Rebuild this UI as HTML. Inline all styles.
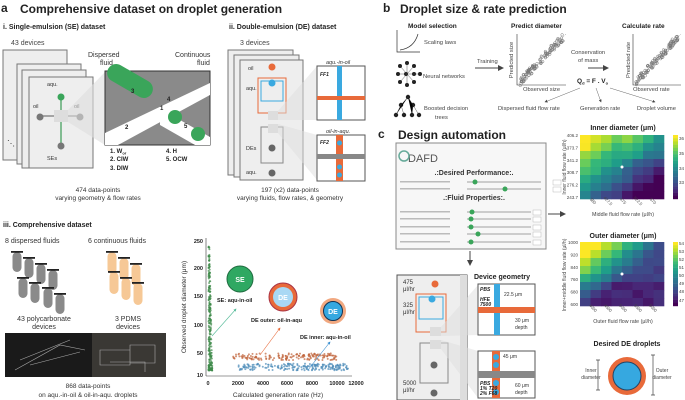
<!DOCTYPE html>
<html><head><meta charset="utf-8"><style>
body{margin:0;background:#fff}
svg{display:block;font-family:"Liberation Sans",sans-serif}
.t{font-size:5.5px;fill:#333}
.h{font-weight:bold;fill:#222}
</style></head><body>
<svg id="s" width="685" height="400" viewBox="0 0 685 400" xmlns="http://www.w3.org/2000/svg">
<defs>
<marker id="ar" markerWidth="6" markerHeight="6" refX="5" refY="3" orient="auto"><path d="M0,0L6,3L0,6z" fill="#444"/></marker>
<marker id="ag" markerWidth="5" markerHeight="5" refX="4" refY="2.5" orient="auto"><path d="M0,0L5,2.5L0,5z" fill="#5b9"/></marker>
<marker id="ao" markerWidth="5" markerHeight="5" refX="4" refY="2.5" orient="auto"><path d="M0,0L5,2.5L0,5z" fill="#e86a3a"/></marker>
<marker id="ab" markerWidth="5" markerHeight="5" refX="4" refY="2.5" orient="auto"><path d="M0,0L5,2.5L0,5z" fill="#3a8fd0"/></marker>
</defs>
<!-- a -->
<text x="1" y="12" font-size="12" class="h">a</text>
<text x="20" y="13" font-size="12" class="h">Comprehensive dataset on droplet generation</text>
<text x="3" y="29" font-size="7" class="h">i. Single-emulsion (SE) dataset</text>
<text x="229" y="29" font-size="7" class="h">ii. Double-emulsion (DE) dataset</text>
<text x="11" y="45" font-size="7" fill="#444">43 devices</text>
<g stroke="#777" stroke-width="1" fill="#eee">
<rect x="3" y="50" width="64" height="110"/><rect x="17" y="64" width="64" height="100"/><rect x="22" y="70" width="64" height="98"/><rect x="29" y="77" width="64" height="91"/></g>
<text x="7" y="146" font-size="8" fill="#333">⋱</text>
<text x="47" y="86" class="t">aqu.</text><text x="33" y="108" class="t">oil</text><text x="74" y="108" class="t">oil</text><text x="47" y="160" class="t">SEs</text>
<line x1="61" y1="97" x2="61" y2="146" stroke="#3a9a55" stroke-width="1.2"/>
<line x1="40" y1="116" x2="80" y2="116" stroke="#777" stroke-width="1.2"/>
<circle cx="61" cy="97" r="3.5" fill="#3aa55a"/><circle cx="40" cy="117" r="3.5" fill="#777"/><circle cx="80" cy="117" r="3.5" fill="#777"/><circle cx="61" cy="146" r="3.5" fill="#777"/>
<rect x="54" y="110" width="14" height="12" fill="#ddd"/>
<polygon points="68,110 105,72 105,145 68,122" fill="#ddd" opacity=".6"/>
<rect x="105" y="71" width="105" height="74" fill="#8a8a8a" stroke="#333"/>
<polygon points="105,133 105,145 118,145 210,95 210,83" fill="#fff"/>
<polygon points="160,115 180,120 210,137 210,145 195,145 160,125" fill="#fff"/>
<rect x="105" y="72" width="50" height="18" rx="9" fill="#3aa55a" transform="rotate(30 130 81)"/>
<circle cx="175" cy="117" r="7" fill="#3aa55a"/><circle cx="198" cy="134" r="7" fill="#3aa55a"/>
<text x="131" y="93" font-size="6" class="h">3</text><text x="125" y="129" font-size="6" class="h">2</text><text x="160" y="110" font-size="6" class="h">1</text><text x="167" y="101" font-size="6" class="h">4</text><text x="184" y="128" font-size="6" class="h">5</text>
<text x="88" y="57" font-size="7" fill="#333">Dispersed</text><text x="100" y="65" font-size="7" fill="#333">fluid</text>
<text x="175" y="57" font-size="7" fill="#333">Continuous</text><text x="197" y="65" font-size="7" fill="#333">fluid</text>
<g font-size="6" class="h"><text x="110" y="153">1. W<tspan font-size="4" dy="1.5">or</tspan></text><text x="110" y="161">2. CIW</text><text x="110" y="170">3. DIW</text><text x="166" y="153">4. H</text><text x="166" y="161">5. OCW</text></g>
<text x="98" y="192" font-size="6.5" text-anchor="middle" fill="#333">474 data-points</text>
<text x="98" y="200" font-size="6.5" text-anchor="middle" fill="#333">varying geometry &amp; flow rates</text>
<!-- ii -->
<text x="240" y="45" font-size="7" fill="#444">3 devices</text>
<g stroke="#777" fill="#eee"><rect x="228" y="50" width="65" height="125"/><rect x="234" y="55" width="65" height="122"/><rect x="240" y="60" width="63" height="120"/></g>
<rect x="258" y="78" width="28" height="35" fill="none" stroke="#e86a3a"/><rect x="261" y="81" width="22" height="20" fill="none" stroke="#3aa9e0"/>
<rect x="261" y="127" width="22" height="36" fill="none" stroke="#888"/>
<circle cx="272" cy="67" r="3.5" fill="#e86a3a"/><circle cx="272" cy="83" r="3.5" fill="#3aa9e0"/><circle cx="272" cy="148" r="3.5" fill="#666"/><circle cx="272" cy="173" r="3.5" fill="#666"/>
<rect x="268" y="111" width="10" height="9" fill="#ddd"/><rect x="268" y="124" width="10" height="9" fill="#ddd"/>
<text x="248" y="70" class="t">oil</text><text x="246" y="90" class="t">aqu.</text><text x="246" y="150" class="t">DEs</text><text x="246" y="174" class="t">aqu.</text>
<polygon points="278,111 317,66 317,120 278,120" fill="#ddd" opacity=".5"/><polygon points="278,124 317,135 317,180 278,133" fill="#ddd" opacity=".5"/>
<rect x="317" y="66" width="48" height="54" fill="#fff" stroke="#555"/>
<rect x="337" y="66" width="5" height="54" fill="#3aa9e0"/><rect x="317" y="96" width="48" height="4" fill="#e86a3a"/>
<rect x="317" y="135" width="48" height="46" fill="#fff" stroke="#555"/>
<rect x="336" y="135" width="7" height="46" fill="#e86a3a"/><rect x="317" y="154" width="48" height="5" fill="#888"/>
<circle cx="339.5" cy="143" r="2.5" fill="#3aa9e0"/><circle cx="339.5" cy="167" r="2.5" fill="#3aa9e0"/><circle cx="339.5" cy="175" r="2.5" fill="#3aa9e0"/>
<text x="320" y="76" font-size="5" class="h" font-style="italic">FF1</text><text x="320" y="144" font-size="5" class="h" font-style="italic">FF2</text>
<text x="326" y="64" font-size="5.5" font-style="italic" fill="#333">aqu.-in-oil</text><text x="326" y="133" font-size="5.5" font-style="italic" fill="#333">oil-in-aqu.</text>
<text x="290" y="192" font-size="6.5" text-anchor="middle" fill="#333">197 (x2) data-points</text>
<text x="290" y="200" font-size="6.5" text-anchor="middle" fill="#333">varying fluids, flow rates, &amp; geometry</text>
<!-- iii -->
<text x="3" y="227" font-size="7" class="h">iii. Comprehensive dataset</text>
<text x="5" y="243" font-size="7" fill="#333">8 dispersed fluids</text><text x="88" y="243" font-size="7" fill="#333">6 continuous fluids</text>
<g id="tubes"></g>
<text x="44" y="321" font-size="7" text-anchor="middle" fill="#333">43 polycarbonate</text><text x="44" y="329" font-size="7" text-anchor="middle" fill="#333">devices</text>
<text x="128" y="321" font-size="7" text-anchor="middle" fill="#333">3 PDMS</text><text x="128" y="329" font-size="7" text-anchor="middle" fill="#333">devices</text>
<rect x="5" y="333" width="87" height="44" fill="#1a1a1a"/><rect x="92" y="333" width="74" height="44" fill="#3a3834"/>
<g stroke="#aaa" stroke-width=".6" fill="none"><path d="M15,370L60,345L85,350M20,360L70,340M30,365L80,352"/><path d="M100,350h30v15h-30zM130,345h25v18h-25zM110,362h35v10"/></g>
<text x="88" y="388" font-size="6.5" text-anchor="middle" fill="#333">868 data-points</text><text x="88" y="397" font-size="6.5" text-anchor="middle" fill="#333">on aqu.-in-oil &amp; oil-in-aqu. droplets</text>
<!-- scatter plot -->
<line x1="206" y1="238" x2="206" y2="376" stroke="#333" stroke-width=".6"/><line x1="206" y1="376" x2="352" y2="376" stroke="#333" stroke-width=".6"/>
<g font-size="5.5" class="h" text-anchor="end"><text x="203" y="243">250</text><text x="203" y="270">200</text><text x="203" y="298">150</text><text x="203" y="327">100</text><text x="203" y="355">50</text><text x="203" y="377">10</text></g>
<g font-size="5.5" class="h" text-anchor="middle"><text x="208" y="385">0</text><text x="238" y="385">2000</text><text x="263" y="385">4000</text><text x="287" y="385">6000</text><text x="312" y="385">8000</text><text x="337" y="385">10000</text><text x="356" y="385">12000</text></g>
<text x="278" y="397" font-size="6.5" text-anchor="middle" fill="#333">Calculated generation rate (Hz)</text>
<text transform="translate(186,307) rotate(-90)" font-size="6.5" text-anchor="middle" fill="#333">Observed droplet diameter (μm)</text>
<g id="pts"></g>
<line x1="212" y1="336" x2="236" y2="309" stroke="#5b9" stroke-width=".6" marker-end="url(#ag)"/>
<line x1="260" y1="355" x2="280" y2="328" stroke="#e86a3a" stroke-width=".6" marker-end="url(#ao)"/>
<line x1="308" y1="370" x2="330" y2="342" stroke="#3a8fd0" stroke-width=".6" marker-end="url(#ab)"/>
<circle cx="240" cy="279" r="13" fill="#2fa862" stroke="#1f6b3f"/><text x="240" y="282" font-size="7" fill="#fff" text-anchor="middle" font-weight="bold">SE</text>
<text x="217" y="302" font-size="5.5" class="h">SE: aqu-in-oil</text>
<circle cx="283" cy="297" r="14" fill="#e86a3a" stroke="#a34"/><circle cx="283" cy="297" r="10" fill="#a9d8f4"/><text x="283" y="300" font-size="7" fill="#fff" text-anchor="middle" font-weight="bold">DE</text>
<text x="251" y="322" font-size="5.5" class="h">DE outer: oil-in-aqu</text>
<circle cx="333" cy="311" r="13" fill="#f1a880"/><circle cx="333" cy="311" r="9.5" fill="#36a8e0" stroke="#135"/><text x="333" y="314" font-size="7" fill="#fff" text-anchor="middle" font-weight="bold">DE</text>
<text x="300" y="339" font-size="5.5" class="h">DE inner: aqu-in-oil</text>
<!-- b -->
<text x="383" y="12" font-size="12" class="h">b</text>
<text x="400" y="13" font-size="12" class="h">Droplet size &amp; rate prediction</text>
<g font-size="6.5" class="h"><text x="408" y="28">Model selection</text><text x="511" y="28">Predict diameter</text><text x="622" y="28">Calculate rate</text></g>
<path d="M397,30V52H420" stroke="#333" fill="none" stroke-width=".7"/><path d="M400,50Q414,48 418,34" stroke="#333" fill="none" stroke-width=".7"/>
<g font-size="5.8" fill="#444"><text x="424" y="44">Scaling laws</text><text x="423" y="78">Neural networks</text><text x="424" y="110">Boosted decision</text><text x="435" y="119">trees</text>
<text x="477" y="63">Training</text><text x="571" y="54">Conservation</text><text x="578" y="62">of mass</text>
<text x="523" y="91">Observed size</text><text x="633" y="91">Observed rate</text>
<text x="498" y="110">Dispersed fluid flow rate</text><text x="580" y="110">Generation rate</text><text x="637" y="110">Droplet volume</text></g>
<g fill="#222"><circle cx="400" cy="66" r="2"/><circle cx="407" cy="63" r="2"/><circle cx="414" cy="66" r="2"/><circle cx="398" cy="74" r="2"/><circle cx="406" cy="74" r="2"/><circle cx="414" cy="74" r="2"/><circle cx="420" cy="74" r="2"/><circle cx="400" cy="82" r="2"/><circle cx="407" cy="85" r="2"/><circle cx="414" cy="82" r="2"/>
<circle cx="408" cy="97" r="2.2"/><circle cx="401" cy="105" r="2.2"/><circle cx="413" cy="105" r="2.2"/><circle cx="396" cy="115" r="2.2"/><circle cx="404" cy="115" r="2.2"/><circle cx="412" cy="115" r="2.2"/><circle cx="419" cy="115" r="2.2"/></g>
<g stroke="#333" stroke-width=".4"><path d="M400,66L414,82M414,66L400,82M398,74H420M407,63V85M408,97L401,105L396,115M401,105L404,115M408,97L413,105L412,115M413,105L419,115"/></g>
<line x1="475" y1="68" x2="503" y2="68" stroke="#444" marker-end="url(#ar)"/>
<line x1="588" y1="68" x2="608" y2="68" stroke="#444" marker-end="url(#ar)"/>
<path d="M517,34V85H566M633,34V85H681" stroke="#333" fill="none" stroke-width=".6"/>
<text transform="translate(513,60) rotate(-90)" font-size="5.8" text-anchor="middle" fill="#444">Predicted size</text>
<text transform="translate(630,60) rotate(-90)" font-size="5.8" text-anchor="middle" fill="#444">Predicted rate</text>
<g id="sc"></g>
<text x="577" y="83" font-size="6.5" class="h">Q<tspan font-size="4" dy="1.5">d</tspan><tspan dy="-1.5"> = F . V</tspan><tspan font-size="4" dy="1.5">o</tspan></text>
<g stroke="#666" stroke-width=".5"><line x1="580" y1="88" x2="545" y2="102" marker-end="url(#ar)"/><line x1="596" y1="88" x2="601" y2="102" marker-end="url(#ar)"/><line x1="610" y1="88" x2="655" y2="102" marker-end="url(#ar)"/></g>
<!-- c -->
<text x="378" y="138" font-size="12" class="h">c</text>
<text x="398" y="139" font-size="12" class="h">Design automation</text>
<rect x="396" y="143" width="150" height="106" fill="#f7f7f7" stroke="#888"/>
<text x="408" y="162" font-size="11" fill="#555">DAFD</text><circle cx="404" cy="156" r="5" fill="none" stroke="#6a9" stroke-width="1.5"/>
<text x="474" y="175" font-size="7" text-anchor="middle" fill="#333" font-weight="bold">.:Desired Performance:.</text>
<text x="474" y="200" font-size="7" text-anchor="middle" fill="#333" font-weight="bold">.:Fluid Properties:.</text>
<g id="sl"></g>
<line x1="548" y1="214" x2="565" y2="214" stroke="#444" marker-end="url(#ar)"/>
<line x1="470" y1="251" x2="470" y2="265" stroke="#444" marker-end="url(#ar)"/>
<!-- device geometry -->
<rect x="397" y="275" width="70" height="125" fill="#eee" stroke="#555"/>
<rect x="460" y="275" width="7" height="125" fill="#ddd"/>
<rect x="416" y="294" width="30" height="38" fill="none" stroke="#e86a3a"/><rect x="419" y="297" width="24" height="22" fill="none" stroke="#3aa9e0"/>
<rect x="420" y="343" width="28" height="40" fill="none" stroke="#888"/>
<circle cx="435" cy="284" r="3.5" fill="#e86a3a"/><circle cx="432" cy="299" r="3.5" fill="#3aa9e0"/><circle cx="434" cy="365" r="3.5" fill="#666"/><circle cx="434" cy="393" r="3.5" fill="#666"/>
<rect x="430" y="327" width="11" height="9" fill="#ddd"/><rect x="430" y="340" width="11" height="9" fill="#ddd"/>
<g font-size="6" fill="#333"><text x="403" y="284">475</text><text x="403" y="291">μl/hr</text><text x="403" y="307">325</text><text x="403" y="314">μl/hr</text><text x="403" y="385">5000</text><text x="403" y="392">μl/hr</text></g>
<polygon points="441,327 478,285 478,335 441,336" fill="#ddd" opacity=".5"/><polygon points="441,340 478,351 478,398 441,349" fill="#ddd" opacity=".5"/>
<text x="474" y="279" font-size="7" class="h">Device geometry</text>
<rect x="478" y="284" width="57" height="51" fill="#fff" stroke="#555"/>
<rect x="494" y="284" width="6" height="51" fill="#3aa9e0"/><rect x="478" y="307" width="57" height="6" fill="#e86a3a"/>
<rect x="478" y="351" width="57" height="47" fill="#fff" stroke="#555"/>
<rect x="492" y="351" width="8" height="47" fill="#e86a3a"/><rect x="478" y="371" width="57" height="7" fill="#888"/>
<circle cx="496" cy="357" r="3" fill="#3aa9e0"/><circle cx="496" cy="365" r="3" fill="#3aa9e0"/><circle cx="496" cy="383" r="3" fill="#3aa9e0"/><circle cx="496" cy="392" r="3" fill="#3aa9e0"/>
<g font-size="5" font-weight="bold" font-style="italic" fill="#222"><text x="480" y="291">PBS</text><text x="480" y="301">HFE</text><text x="480" y="306">7500</text><text x="480" y="385">PBS</text><text x="480" y="390">1% T20</text><text x="480" y="395">2% F68</text></g>
<g font-size="5" fill="#333"><text x="504" y="296">22.5 μm</text><text x="515" y="322">30 μm</text><text x="515" y="329">depth</text><text x="503" y="358">45 μm</text><text x="515" y="387">60 μm</text><text x="515" y="394">depth</text></g>
<!-- heatmaps -->
<text x="623" y="130" font-size="7" class="h" text-anchor="middle">Inner diameter (μm)</text>
<text x="623" y="238" font-size="7" class="h" text-anchor="middle">Outer diameter (μm)</text>
<g id="hm"></g>
<text transform="translate(566,167) rotate(-90)" font-size="5" text-anchor="middle" fill="#444">Inner fluid flow rate (μl/h)</text>
<text transform="translate(566,275) rotate(-90)" font-size="5" text-anchor="middle" fill="#444">Inner+middle fluid flow rate (μl/h)</text>
<text x="623" y="216" font-size="5.3" text-anchor="middle" fill="#444">Middle fluid flow rate (μl/h)</text>
<text x="623" y="323" font-size="5.3" text-anchor="middle" fill="#444">Outer fluid flow rate (μl/h)</text>
<text x="627" y="346" font-size="7" class="h" text-anchor="middle">Desired DE droplets</text>
<circle cx="627" cy="376" r="19" fill="#e86a3a"/><circle cx="627" cy="376" r="14" fill="#36a8e0" stroke="#246"/>
<g stroke="#444" stroke-width=".7"><path d="M598,360V390M596,360h4M596,390h4M653,355V395M651,355h4M651,395h4"/></g>
<g font-size="5" fill="#444" text-anchor="middle"><text x="591" y="372">Inner</text><text x="591" y="379">diameter</text><text x="662" y="372">Outer</text><text x="662" y="379">diameter</text></g>
</svg>
<script>
var NS="http://www.w3.org/2000/svg";
function el(p,t,a){var e=document.createElementNS(NS,t);for(var k in a)e.setAttribute(k,a[k]);document.getElementById(p).appendChild(e);return e;}
var sd=7;function r(){sd=(sd*16807)%2147483647;return sd/2147483647;}
// tubes
[[17,252],[29,258],[41,264],[53,270],[23,278],[35,283],[48,288],[60,294]].forEach(function(p){el("tubes","rect",{x:p[0]-4.5,y:p[1],width:9,height:20,rx:4.5,fill:"#8a8a8a"});el("tubes","rect",{x:p[0]-6,y:p[1]-1,width:12,height:1.8,fill:"#222"});});
[[112,252],[124,258],[136,264],[114,272],[126,278],[138,283]].forEach(function(p){el("tubes","rect",{x:p[0]-4.5,y:p[1],width:9,height:22,rx:4.5,fill:"#f6c896"});el("tubes","rect",{x:p[0]-6,y:p[1]-1,width:12,height:1.8,fill:"#222"});});
function Y(v){return 376-(v-10)*136/240;}function X(v){return 208+v*0.01225;}
for(var i=0;i<260;i++){var d=20+Math.pow(r(),2)*220;el("pts","circle",{cx:X(r()*350*(1-d/300)+40),cy:Y(d),r:1,fill:"#3f8a4a",opacity:.7});}
for(i=0;i<170;i++){el("pts","circle",{cx:X(2000+Math.pow(r(),.8)*8500),cy:Y(38+r()*12),r:1,fill:"#c0643a",opacity:.7});}
for(i=0;i<200;i++){el("pts","circle",{cx:X(2500+Math.pow(r(),.9)*9000),cy:Y(20+r()*12),r:1,fill:"#4a8ab8",opacity:.7});}
[[517,85,566,34],[633,85,681,34]].forEach(function(b){el("sc","line",{x1:b[0],y1:b[1],x2:b[2],y2:b[3],stroke:"#999","stroke-dasharray":"2,1","stroke-width":.5});for(var i=0;i<120;i++){var t=r();var x=b[0]+3+t*(b[2]-b[0]-6);var y=b[1]-3-t*(b[1]-b[3]-6)+(r()-.5)*8;el("sc","circle",{cx:x,cy:y,r:1.3,fill:"none",stroke:"#777","stroke-width":.5});}});
// sliders
[[182,475],[189,505]].forEach(function(s){el("sl","rect",{x:467,y:s[0]-1,width:74,height:2,fill:"#ccc"});el("sl","circle",{cx:s[1],cy:s[0],r:2.5,fill:"#3aa55a"});el("sl","rect",{x:400,y:s[0]-1,width:50,height:1.5,fill:"#bbb"});el("sl","rect",{x:553,y:s[0]-2,width:8,height:5,fill:"#fff",stroke:"#aaa","stroke-width":.4});});
[[212,472],[219,471],[227,471],[234,478],[242,471]].forEach(function(s){el("sl","rect",{x:467,y:s[0]-1,width:64,height:2,fill:"#ccc"});el("sl","circle",{cx:s[1],cy:s[0],r:2.5,fill:"#3aa55a"});el("sl","rect",{x:400,y:s[0]-1,width:50,height:1.5,fill:"#bbb"});el("sl","rect",{x:533,y:s[0]-2,width:8,height:5,fill:"#fff",stroke:"#aaa","stroke-width":.4});});
var vir=[[68,1,84],[72,40,120],[62,74,137],[49,104,142],[38,130,142],[31,158,137],[53,183,121],[109,205,89],[180,222,44],[253,231,37]];
function cm(t){t=Math.max(0,Math.min(.999,t))*9;var i=Math.floor(t),f=t-i,a=vir[i],b=vir[i+1];return "rgb("+[0,1,2].map(function(k){return Math.round(a[k]+(b[k]-a[k])*f)}).join(",")+")";}
function hm(x0,y0,yl,xl,fn){var w=84/8,h=64/8;for(var i=0;i<8;i++)for(var j=0;j<8;j++)el("hm","rect",{x:x0+i*w,y:y0+j*h,width:w+.3,height:h+.3,fill:cm(fn(i/7,j/7)+(r()-.5)*.08)});
el("hm","circle",{cx:x0+42,cy:y0+32,r:1.5,fill:"#fff"});
for(var k=0;k<20;k++)el("hm","rect",{x:673,y:y0+k*3.2,width:5,height:3.4,fill:cm(1-k/19)});
yl.forEach(function(l,k){var e=el("hm","text",{x:x0-2,y:y0+2+k*62/(yl.length-1),"font-size":4.5,"text-anchor":"end",fill:"#444"});e.textContent=l;});
xl.forEach(function(l,k){var cx=x0+12+k*15,cy=y0+67;var e=el("hm","text",{x:cx,y:cy,"font-size":4.2,fill:"#444","text-anchor":"middle",transform:"rotate(45 "+cx+" "+cy+")"});e.textContent=l;});}
hm(580,135,["406.2","373.7","341.2","308.7","276.2","243.7"],["380","427.5","475","522.5","570"],function(x,y){return 1.05-(x+y)*0.62+(x>.5&&y<.3?.1:0);});
hm(580,242,["1000","920","840","760","680","600"],["4000","4500","5000","5500","6000"],function(x,y){return Math.max(0,.95-x*0.9-y*0.85)+.2-(y>.6?.1:0);});
[["36",140],["35",155],["34",170],["33",184]].forEach(function(c){var e=el("hm","text",{x:679,y:c[1],"font-size":4.5,fill:"#444"});e.textContent=c[0];});
[["54",245],["53",253],["52",261],["51",269],["50",277],["49",285],["48",293],["47",302]].forEach(function(c){var e=el("hm","text",{x:679,y:c[1],"font-size":4.5,fill:"#444"});e.textContent=c[0];});
</script>
</body></html>
